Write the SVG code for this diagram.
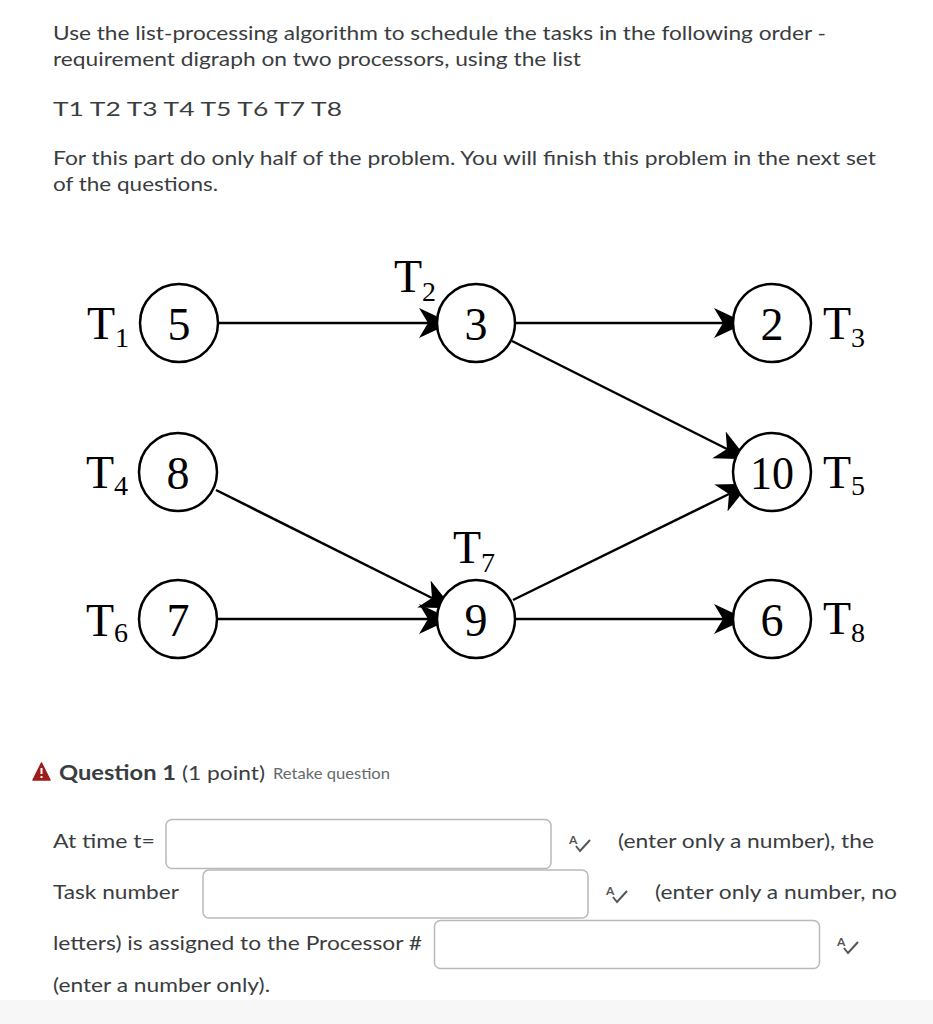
<svg xmlns="http://www.w3.org/2000/svg" width="933" height="1024" viewBox="0 0 933 1024">
<style>
.ui{font-family:Lato,"Liberation Sans",sans-serif;fill:#3a3d3f;font-size:20px}
.g{font-family:"Liberation Serif","Times New Roman",serif;fill:#000}
.lbl{font-size:46px}
.sub{font-size:28px}
.num{font-size:46px;text-anchor:middle}
.node circle{fill:#fff;stroke:#000;stroke-width:2.5}
.edge{stroke:#000;stroke-width:2.5;fill:none;marker-end:url(#arr)}
.box{fill:#fff;stroke:#b9b9b9;stroke-width:1.5}
.ico{font-family:Lato,"Liberation Sans",sans-serif;font-size:12px;font-weight:bold;fill:#555}
.chk{fill:none;stroke:#555;stroke-width:2}
</style>
<defs>
<marker id="arr" viewBox="0 0 32 32" refX="9" refY="16" markerWidth="32" markerHeight="32" markerUnits="userSpaceOnUse" orient="auto">
<path d="M0,1 L32,16 L0,31 L9,16 Z" fill="#000"/>
</marker>
</defs>
<rect width="933" height="1024" fill="#fff"/>
<rect y="1000" width="933" height="24" fill="#f7f7f7"/>

<g id="intro">
<text class="ui" x="53" y="40" textLength="773" lengthAdjust="spacingAndGlyphs">Use the list-processing algorithm to schedule the tasks in the following order -</text>
<text class="ui" x="53" y="66" textLength="528" lengthAdjust="spacingAndGlyphs">requirement digraph on two processors, using the list</text>
<text class="ui" x="53" y="116" textLength="289" lengthAdjust="spacingAndGlyphs">T1  T2  T3  T4  T5  T6  T7  T8</text>
<text class="ui" x="53" y="165" textLength="823" lengthAdjust="spacingAndGlyphs">For this part do only half of the problem. You will finish this problem in the next set</text>
<text class="ui" x="53" y="191" textLength="165" lengthAdjust="spacingAndGlyphs">of the questions.</text>
</g>

<g id="connectors">
<line class="edge" x1="219" y1="323" x2="428" y2="323"/>
<line class="edge" x1="516" y1="323" x2="723" y2="323"/>
<line class="edge" x1="512" y1="341" x2="727" y2="449"/>
<line class="edge" x1="216" y1="490" x2="432" y2="598"/>
<line class="edge" x1="218" y1="619" x2="428" y2="619"/>
<line class="edge" x1="513" y1="600" x2="729" y2="494"/>
<line class="edge" x1="516" y1="619" x2="723" y2="619"/>
</g>

<g id="T1" class="node">
<circle cx="179" cy="323" r="39"/>
<text class="g num" x="179" y="340">5</text>
<text class="g lbl" x="87" y="339">T<tspan class="sub" dy="8">1</tspan></text>
</g>
<g id="T2" class="node">
<circle cx="476" cy="323" r="39"/>
<text class="g num" x="476" y="340">3</text>
<text class="g lbl" x="394" y="292">T<tspan class="sub" dy="9">2</tspan></text>
</g>
<g id="T3" class="node">
<circle cx="772" cy="323" r="39"/>
<text class="g num" x="772" y="340">2</text>
<text class="g lbl" x="823" y="339">T<tspan class="sub" dy="8">3</tspan></text>
</g>
<g id="T4" class="node">
<circle cx="178" cy="472" r="39"/>
<text class="g num" x="178" y="489">8</text>
<text class="g lbl" x="86" y="488">T<tspan class="sub" dy="7">4</tspan></text>
</g>
<g id="T5" class="node">
<circle cx="772" cy="472" r="39"/>
<text class="g num" x="772" y="489" textLength="44" lengthAdjust="spacingAndGlyphs">10</text>
<text class="g lbl" x="823" y="488">T<tspan class="sub" dy="7">5</tspan></text>
</g>
<g id="T6" class="node">
<circle cx="178" cy="619" r="39"/>
<text class="g num" x="178" y="636">7</text>
<text class="g lbl" x="86" y="636">T<tspan class="sub" dy="6">6</tspan></text>
</g>
<g id="T7" class="node">
<circle cx="476" cy="619" r="39"/>
<text class="g num" x="476" y="636">9</text>
<text class="g lbl" x="453" y="563">T<tspan class="sub" dy="9">7</tspan></text>
</g>
<g id="T8" class="node">
<circle cx="772" cy="619" r="39"/>
<text class="g num" x="772" y="636">6</text>
<text class="g lbl" x="823" y="634">T<tspan class="sub" dy="8">8</tspan></text>
</g>

<g id="question">
<path d="M41.5,763 L50,780 L33,780 Z" fill="#9d1c1c" stroke="#9d1c1c" stroke-width="1.5" stroke-linejoin="round"/>
<rect x="40.5" y="768" width="2" height="6" fill="#fff"/>
<rect x="40.5" y="776" width="2" height="2" fill="#fff"/>
<text class="ui" x="59" y="780" font-size="21" font-weight="bold" textLength="117" lengthAdjust="spacingAndGlyphs">Question 1</text>
<text class="ui" x="182" y="780" font-size="21" textLength="83" lengthAdjust="spacingAndGlyphs">(1 point)</text>
<text class="ui" x="273" y="779" style="fill:#666a6d;font-size:16px" textLength="117" lengthAdjust="spacingAndGlyphs">Retake question</text>
</g>

<g id="form">
<text class="ui" x="53" y="848" textLength="102" lengthAdjust="spacingAndGlyphs">At time t=</text>
<rect class="box" x="166" y="819.5" width="385" height="49" rx="6"/>
<text class="ico" x="569" y="844">A</text>
<polyline class="chk" points="576,846 580,851 590,840"/>
<text class="ui" x="618" y="848" textLength="256" lengthAdjust="spacingAndGlyphs">(enter only a number), the</text>

<text class="ui" x="53" y="899" textLength="126" lengthAdjust="spacingAndGlyphs">Task number</text>
<rect class="box" x="203" y="870" width="385" height="48" rx="6"/>
<text class="ico" x="606" y="895">A</text>
<polyline class="chk" points="613,897 617,902 627,891"/>
<text class="ui" x="655" y="899" textLength="242" lengthAdjust="spacingAndGlyphs">(enter only a number, no</text>

<text class="ui" x="53" y="950" textLength="369" lengthAdjust="spacingAndGlyphs">letters) is assigned to the Processor #</text>
<rect class="box" x="434.5" y="920.5" width="385" height="48" rx="6"/>
<text class="ico" x="837" y="946">A</text>
<polyline class="chk" points="844,948 848,953 858,942"/>

<text class="ui" x="53" y="992" textLength="217" lengthAdjust="spacingAndGlyphs">(enter a number only).</text>
</g>
</svg>
